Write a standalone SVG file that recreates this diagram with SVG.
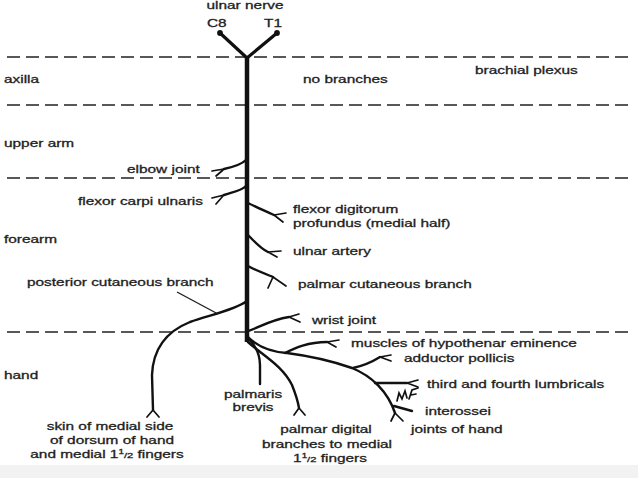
<svg xmlns="http://www.w3.org/2000/svg" width="638" height="478" viewBox="0 0 638 478">
<style>
.t{font-family:"Liberation Sans",Arial,sans-serif;font-size:11px;fill:#1e1e1e;stroke:#1e1e1e;stroke-width:0.3}
.m{text-anchor:middle}
.dash{stroke:#222;stroke-width:1.7;stroke-dasharray:13 6;fill:none}
.br{stroke:#111;stroke-width:2.4;fill:none;stroke-linecap:round;stroke-linejoin:round}
.tine{stroke:#111;stroke-width:1.7;fill:none;stroke-linecap:round}
.trunk{stroke:#111;stroke-width:4.5;fill:none}
</style>
<rect width="638" height="478" fill="#ffffff"/>
<rect x="0" y="465" width="638" height="13" fill="#f2f2f2"/>

<g id="levels">
<line class="dash" x1="7" y1="57" x2="628" y2="57"/>
<line class="dash" x1="7" y1="105" x2="628" y2="105"/>
<line class="dash" x1="7" y1="178" x2="628" y2="178"/>
<line class="dash" x1="7" y1="332" x2="628" y2="332"/>
<text class="t" transform="translate(4,83) scale(1.4 1)">axilla</text>
<text class="t" transform="translate(4,147) scale(1.4 1)">upper arm</text>
<text class="t" transform="translate(4,243) scale(1.4 1)">forearm</text>
<text class="t" transform="translate(4,379) scale(1.4 1)">hand</text>
<text class="t" transform="translate(475,74) scale(1.4 1)">brachial plexus</text>
<text class="t" transform="translate(303,83) scale(1.4 1)">no branches</text>
</g>

<g id="ulnar-nerve">
<text class="t m" transform="translate(245,9) scale(1.4 1)">ulnar nerve</text>
<text class="t" transform="translate(207,27) scale(1.4 1)">C8</text>
<text class="t" transform="translate(264,27) scale(1.4 1)">T1</text>
<path d="M220,33 L247,58 L277,33" stroke="#111" stroke-width="3.2" fill="none" stroke-linejoin="round"/>
<circle cx="220" cy="33" r="2.9" fill="#111"/>
<circle cx="277" cy="33" r="2.9" fill="#111"/>
</g>

<g id="connectors">
<line class="trunk" x1="247" y1="56" x2="247" y2="342"/>
</g>

<g id="elbow-joint">
<path class="br" d="M246,160 C241,165 233,167 224,169"/>
<path class="tine" d="M224,169 L212,171 M223,170 L216,176"/>
<text class="t" transform="translate(127,173) scale(1.4 1)">elbow joint</text>
</g>

<g id="flexor-carpi-ulnaris">
<path class="br" d="M246,186 C241,191 233,192 224,195"/>
<path class="tine" d="M224,195 L212,198 M223,196 L216,204"/>
<text class="t" transform="translate(78,205) scale(1.4 1)">flexor carpi ulnaris</text>
</g>

<g id="flexor-digitorum-profundus">
<path class="br" d="M248,203 C256,207 265,211 274,215"/>
<path class="tine" d="M274,215 L286,213 M274,215 L283,222"/>
<text class="t" transform="translate(293,213) scale(1.4 1)">flexor digitorum</text>
<text class="t" transform="translate(293,227) scale(1.4 1)">profundus (medial half)</text>
</g>

<g id="ulnar-artery">
<path class="br" d="M248,235 C255,242 260,248 268,252"/>
<path class="tine" d="M268,252 L281,251 M268,252 L277,257"/>
<text class="t" transform="translate(293,255) scale(1.4 1)">ulnar artery</text>
</g>

<g id="palmar-cutaneous-branch">
<path class="br" d="M248,266 C255,270 263,273 273,277"/>
<path class="tine" d="M273,277 L268,288 M273,277 L286,286"/>
<text class="t" transform="translate(298,288) scale(1.4 1)">palmar cutaneous branch</text>
</g>

<g id="posterior-cutaneous-branch">
<path class="br" d="M247,301 C235,310 210,315 190,322 C165,332 153,350 152,375 L153,410"/>
<path class="tine" d="M153,410 L147,417 M153,410 L159,417"/>
<line x1="177" y1="292" x2="218" y2="314" stroke="#1e1e1e" stroke-width="1.4"/>
<text class="t" transform="translate(27,286) scale(1.4 1)">posterior cutaneous branch</text>
<text class="t m" transform="translate(110,430) scale(1.4 1)">skin of medial side</text>
<text class="t m" transform="translate(112,444) scale(1.4 1)">of dorsum of hand</text>
<text class="t m" transform="translate(107,458) scale(1.4 1)">and medial 1<tspan font-size="7" dy="-4">1</tspan><tspan font-size="8" dy="4">/2</tspan> fingers</text>
</g>

<g id="wrist-joint">
<path class="br" d="M248,331 C258,328 270,320 289,317"/>
<path class="tine" d="M289,317 L299,314 M289,317 L300,322"/>
<text class="t" transform="translate(312,324) scale(1.4 1)">wrist joint</text>
</g>

<g id="palmaris-brevis">
<path class="br" d="M248,338 C256,346 260,355 260,365 L260,384"/>
<text class="t m" transform="translate(253,398) scale(1.4 1)">palmaris</text>
<text class="t m" transform="translate(253,411) scale(1.4 1)">brevis</text>
</g>

<g id="palmar-digital-branches">
<path class="br" d="M248,342 C262,355 282,365 292,385 C296,395 298,402 299,408"/>
<path class="tine" d="M299,408 L294,415 M299,408 L305,415"/>
<text class="t m" transform="translate(326,433) scale(1.4 1)">palmar digital</text>
<text class="t m" transform="translate(327,448) scale(1.4 1)">branches to medial</text>
<text class="t m" transform="translate(330,462) scale(1.4 1)">1<tspan font-size="7" dy="-4">1</tspan><tspan font-size="8" dy="4">/2</tspan> fingers</text>
</g>

<g id="deep-branch">
<path class="br" d="M248,337 C258,347 272,352 287,353 C310,356 335,362 352,368 C372,376 388,392 395,413"/>
<path class="tine" d="M395,413 L391,421 M395,413 L403,421"/>
<text class="t" transform="translate(411,433) scale(1.4 1)">joints of hand</text>
</g>

<g id="hypothenar-eminence">
<path class="br" d="M285,353 C295,348 308,342 327,342"/>
<path class="tine" d="M327,342 L339,340 M327,342 L336,347"/>
<text class="t" transform="translate(351,347) scale(1.4 1)">muscles of hypothenar eminence</text>
</g>

<g id="adductor-pollicis">
<path class="br" d="M353,368 C362,366 372,362 380,357"/>
<path class="tine" d="M380,357 L391,355 M380,357 L391,361"/>
<text class="t" transform="translate(404,362) scale(1.4 1)">adductor pollicis</text>
</g>

<g id="lumbricals">
<path class="br" d="M375,383 L407,383"/>
<path class="tine" d="M407,383 L418,380 M407,383 L418,387"/>
<text class="t" transform="translate(427,388) scale(1.4 1)">third and fourth lumbricals</text>
</g>

<g id="interossei">
<path class="br" d="M394,406 L412,411"/>
<path class="tine" d="M397,401 L399,393 L402,399 L405,391 L407,398 M409,399 L412,390 L418,388 M411,395 L416,394"/>
<text class="t" transform="translate(425,415) scale(1.4 1)">interossei</text>
</g>
</svg>
